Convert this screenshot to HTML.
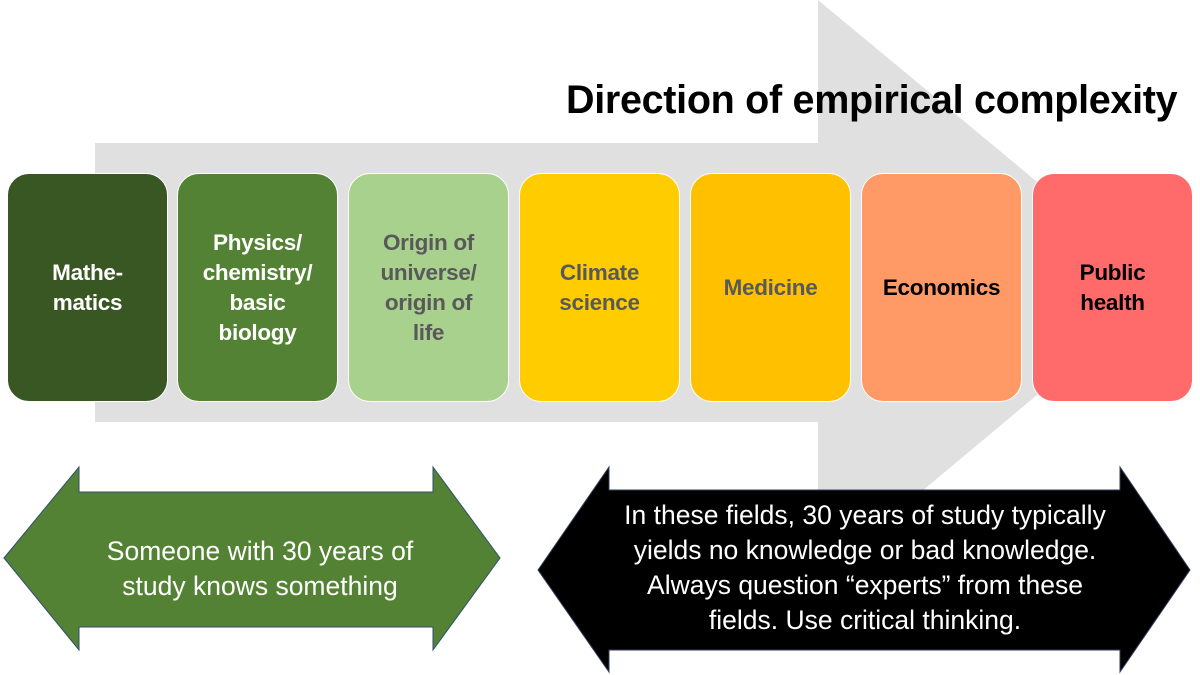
<!DOCTYPE html>
<html><head><meta charset="utf-8"><style>
body{margin:0;width:1200px;height:675px;background:#fff;overflow:hidden;position:relative;font-family:"Liberation Sans",sans-serif}
.b{position:absolute;top:173px;width:161px;height:229px;border-radius:22px;border:1.5px solid #fff;box-sizing:border-box;display:flex;align-items:center;justify-content:center;text-align:center;font-weight:bold;font-size:22.5px;line-height:30px;letter-spacing:-0.3px}
.t{position:absolute;text-align:center;font-size:26.5px;line-height:35px;color:#fff;white-space:nowrap}
</style></head><body>
<svg width="1200" height="675" style="position:absolute;left:0;top:0">
<polygon points="95,143 818,143 818,0 1165,288 818,578 818,422 95,422" fill="#e0e0e0"/>
<polygon points="4,558 79,467 79,492 433,492 433,467 500,558 433,650 433,627 79,627 79,650" fill="#548235" stroke="#2f4f6f" stroke-width="1"/>
<polygon points="538,570 609,467 609,490 1120,490 1120,467 1190,570 1120,672 1120,650 609,650 609,672" fill="#000" stroke="#2f3f5f" stroke-width="1"/>
</svg>
<div style="position:absolute;left:566px;top:78px;font-size:39.5px;font-weight:bold;color:#000;white-space:nowrap;letter-spacing:-0.3px">Direction of empirical complexity</div>
<div class="b" style="left:7px;background:#385723;color:#fff">Mathe-<br>matics</div>
<div class="b" style="left:177px;background:#548235;color:#fff">Physics/<br>chemistry/<br>basic<br>biology</div>
<div class="b" style="left:348px;background:#a9d18e;color:#595959">Origin of<br>universe/<br>origin of<br>life</div>
<div class="b" style="left:519px;background:#ffcc00;color:#595959">Climate<br>science</div>
<div class="b" style="left:690px;background:#ffc000;color:#595959">Medicine</div>
<div class="b" style="left:861px;background:#ff9966;color:#000">Economics</div>
<div class="b" style="left:1032px;background:#ff6b6b;color:#000">Public<br>health</div>
<div class="t" style="left:55px;width:410px;top:534px">Someone with 30 years of<br>study knows something</div>
<div class="t" style="left:570px;width:590px;top:498px">In these fields, 30 years of study typically<br>yields no knowledge or bad knowledge.<br>Always question “experts” from these<br>fields. Use critical thinking.</div>
</body></html>
